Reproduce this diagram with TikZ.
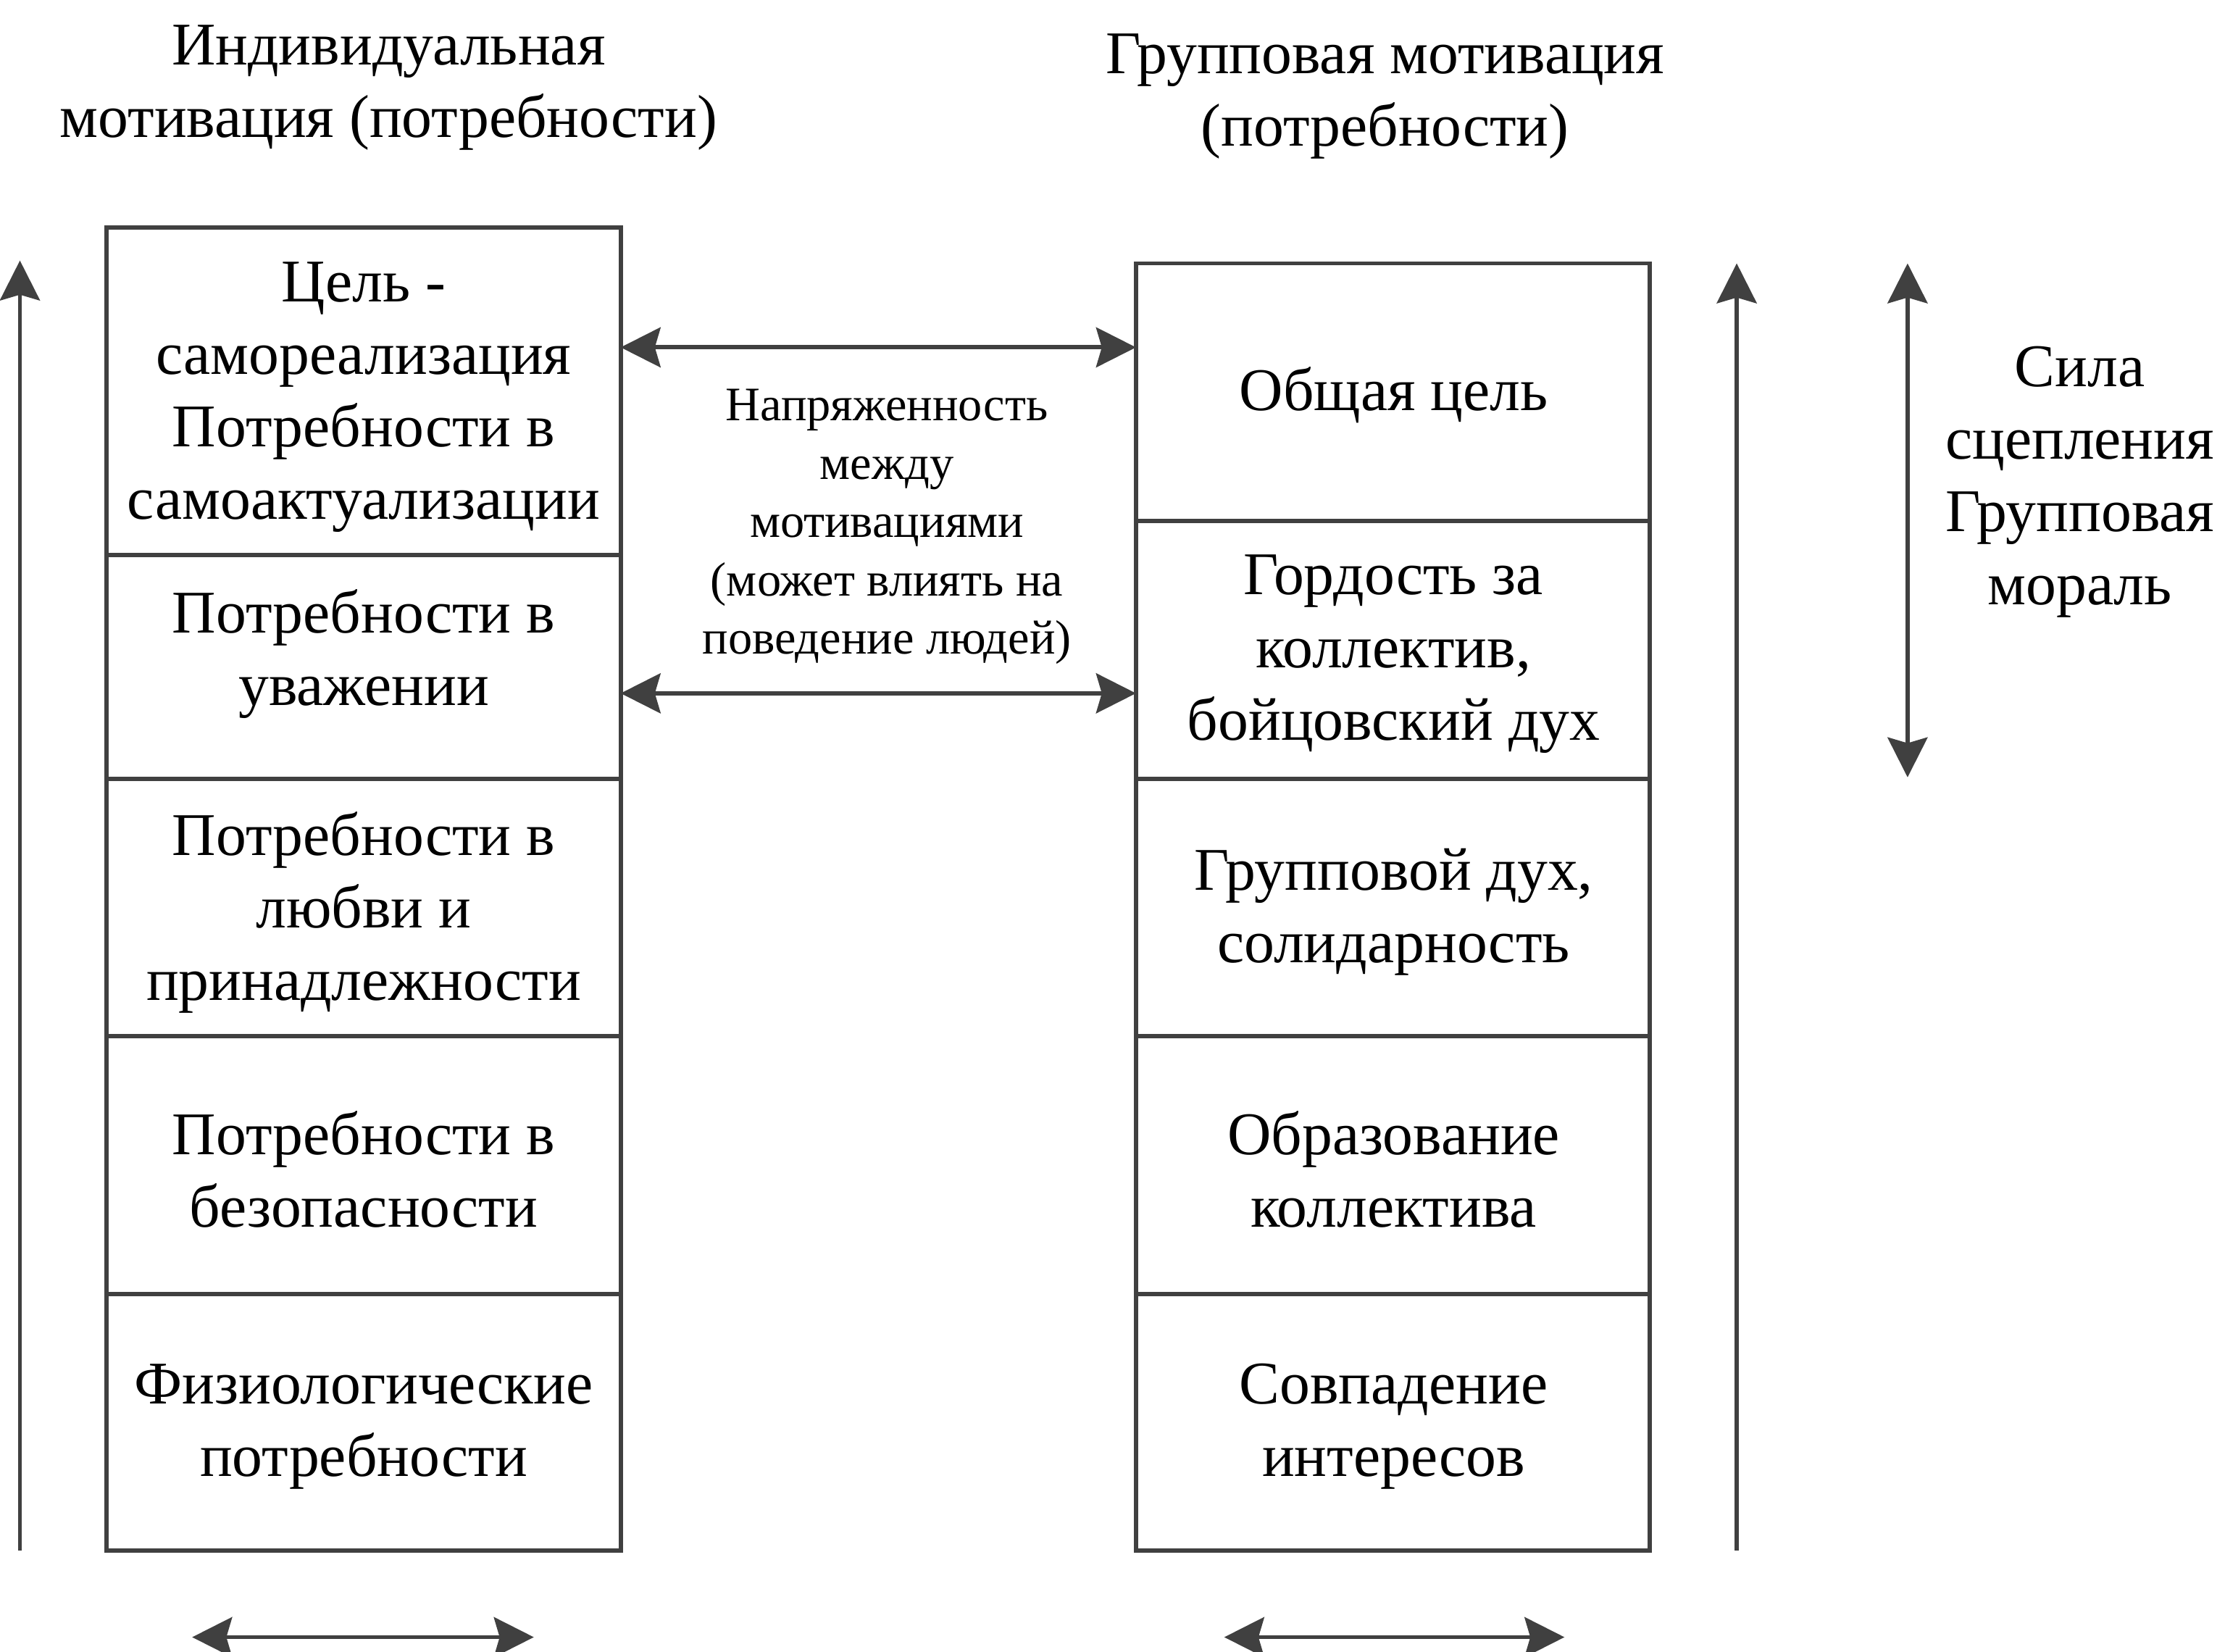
\documentclass[tikz,border=0pt]{standalone}
\usepackage{fontspec}
\setmainfont{Liberation Serif}
\usetikzlibrary{arrows.meta}
\definecolor{lg}{HTML}{404040}
\begin{document}
\begin{tikzpicture}[x=0.5pt,y=-0.5pt,
  cell/.style={draw=lg, line width=1.5pt, inner sep=0pt, outer sep=0pt,
    minimum width=180.5pt, anchor=north west},
  txt/.style={align=center, inner sep=0pt, font=\fontsize{21.3pt}{25.5pt}\selectfont},
  smalltxt/.style={align=center, inner sep=0pt, font=\fontsize{16.9pt}{20.5pt}\selectfont},
  arr/.style={draw=lg, line width=1.5pt, -{Stealth[length=14pt,width=14pt,inset=2pt]}},
  dbl/.style={draw=lg, line width=1.5pt, {Stealth[length=14pt,width=14pt,inset=2pt]}-{Stealth[length=14pt,width=14pt,inset=2pt]}}]
\useasboundingbox (0,0) rectangle (1563,1160);
% left column
\node[cell, minimum height=115pt] (L1) at (75,160) {};
\node[cell, minimum height=78.5pt] (L2) at (75,390) {};
\node[cell, minimum height=90.5pt] (L3) at (75,547) {};
\node[cell, minimum height=90.5pt] (L4) at (75,728) {};
\node[cell, minimum height=90pt] (L5) at (75,909) {};
% right column
\node[cell, minimum height=90.5pt] (R1) at (798,185) {};
\node[cell, minimum height=90.5pt] (R2) at (798,366) {};
\node[cell, minimum height=90.5pt] (R3) at (798,547) {};
\node[cell, minimum height=90.5pt] (R4) at (798,728) {};
\node[cell, minimum height=90pt] (R5) at (798,909) {};
% texts left
\node[txt] (tL1) at (255.5,279) {Цель -\\самореализация\\Потребности в\\самоактуализации};
\node[txt] (tL2) at (255.5,459.5) {Потребности в\\уважении};
\node[txt] (tL3) at (255.5,641) {Потребности в\\любви и\\принадлежности};
\node[txt] (tL4) at (255.5,821.5) {Потребности в\\безопасности};
\node[txt] (tL5) at (255.5,1002) {Физиологические\\потребности};
% texts right
\node[txt] (tR1) at (979,277.5) {Общая цель};
\node[txt] (tR2) at (979,459.5) {Гордость за\\коллектив,\\бойцовский дух};
\node[txt] (tR3) at (979,640.5) {Групповой дух,\\солидарность};
\node[txt] (tR4) at (979,821.5) {Образование\\коллектива};
\node[txt] (tR5) at (979,1002) {Совпадение\\интересов};
% titles
\node[txt] (t1) at (273,61.5) {Индивидуальная\\мотивация (потребности)};
\node[txt] (t2) at (973,67.5) {Групповая мотивация\\(потребности)};
\node[txt] (t3) at (1461,338.5) {Сила\\сцепления\\Групповая\\мораль};
\node[smalltxt] (mid) at (623,370) {Напряженность\\между\\мотивациями\\(может влиять на\\поведение людей)};
% coordinates
\coordinate (a1) at (617,244);
\coordinate (a2) at (617,487);
\coordinate (v1b) at (14,1089);
\coordinate (v1t) at (14,183);
\coordinate (v2b) at (1220,1089);
\coordinate (v2t) at (1220,185);
\coordinate (v3b) at (1340,546);
\coordinate (v3t) at (1340,185);
\coordinate (b1l) at (135,1150);
\coordinate (b1r) at (375,1150);
\coordinate (b2l) at (860,1150);
\coordinate (b2r) at (1099,1150);
% connectors
\draw[dbl] (L1.east |- a1) -- (R1.west |- a1);
\draw[dbl] (L2.east |- a2) -- (R2.west |- a2);
\draw[arr] (v1b) -- (v1t);
\draw[arr] (v2b) -- (v2t);
\draw[dbl] (v3b) -- (v3t);
\draw[dbl] (b1l) -- (b1r);
\draw[dbl] (b2l) -- (b2r);
\end{tikzpicture}
\end{document}
